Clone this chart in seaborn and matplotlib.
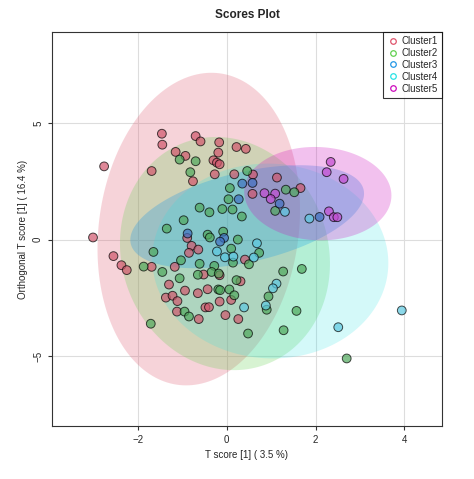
import numpy as np
import pandas as pd
import matplotlib
matplotlib.use("Agg")
import matplotlib.pyplot as plt
import seaborn as sns

sns.set_style("white")
plt.rcParams["font.family"] = ["Liberation Sans", "DejaVu Sans"]

clusters = ["Cluster1", "Cluster2", "Cluster3", "Cluster4", "Cluster5"]
colors = ["#DF536B", "#61D04F", "#2297E6", "#28E2E5", "#CD0BBC"]
point_colors = ["#D0566C", "#4FA85C", "#3F6FC0", "#5CC8E0", "#C24BD0"]

c1_x = [-1.46, -1.45, -0.70, -0.59, -0.17, 0.22, 0.43, -1.15, -0.93, -0.19, -0.30, -0.22, -0.16,
        -2.76, -1.69, -0.27, -0.76, 0.17, 0.59, 1.13, 1.66, 0.58, -3.01, -0.89, -0.79, -0.85,
        -0.64, 0.41, -2.55, -2.37, -2.25, -1.69, -1.17, -0.52, -0.16, -1.30, 0.31, -1.37, -1.22,
        -1.11, -0.94, -0.65, -0.43, -0.16, 0.10, -0.48, -0.40, -1.12, -0.03, 0.26, -0.63]
c1_y = [4.54, 4.07, 4.44, 4.21, 4.17, 3.97, 3.89, 3.76, 3.59, 3.73, 3.40, 3.30, 3.23,
        3.14, 2.94, 2.80, 2.50, 2.80, 2.79, 2.66, 2.21, 1.96, 0.09, 0.07, -0.27, -0.57,
        -0.43, -0.86, -0.71, -1.10, -1.31, -1.17, -1.17, -1.50, -1.53, -1.93, -1.79, -2.49, -2.41,
        -2.64, -2.19, -2.30, -2.13, -2.66, -2.59, -2.91, -2.90, -3.09, -3.24, -3.41, -3.41]
c2_x = [-1.06, -0.70, -0.82, 0.46, 0.07, 0.04, -0.61, -0.39, -0.10, 0.13, 0.34, 1.33, 1.52,
        1.09, -0.97, -1.35, -0.43, -0.38, -0.08, 0.25, -1.65, -1.03, 0.10, 0.73, 0.14, -1.87,
        -1.45, -0.61, -0.28, -0.34, -0.18, -0.65, -1.06, 0.50, 1.69, 1.27, 0.22, -0.19, -0.15,
        0.06, 0.17, 0.94, -0.95, -0.85, 0.90, 1.57, -1.71, 0.48, 1.28, 2.70]
c2_y = [3.43, 3.36, 2.89, 2.94, 2.21, 1.73, 1.37, 1.17, 1.31, 1.29, 0.99, 2.14, 2.03,
        1.23, 0.83, 0.47, 0.21, 0.09, 0.34, 0.00, -0.53, -0.89, -0.39, -0.57, -0.99, -1.16,
        -1.39, -1.04, -1.13, -1.39, -1.46, -1.51, -1.66, -1.06, -1.26, -1.37, -1.74, -2.14, -2.17,
        -2.14, -2.39, -2.44, -3.09, -3.30, -3.01, -3.06, -3.61, -4.03, -3.89, -5.10]
c3_x = [0.58, 0.35, 0.27, 1.19, 2.09, -0.88, -0.06, -0.15]
c3_y = [2.43, 2.40, 1.73, 1.54, 0.97, 0.26, 0.07, -0.09]
c4_x = [1.31, 1.86, 0.68, -0.22, -0.04, 0.15, 0.61, 1.12, 1.04, 0.88, 0.39, 2.51, 3.94]
c4_y = [1.19, 0.90, -0.16, -0.51, -0.76, -0.73, -0.77, -1.89, -2.09, -2.83, -2.91, -3.76, -3.04]
c5_x = [2.34, 2.25, 2.63, 0.85, 1.09, 0.99, 2.30, 2.41, 2.49]
c5_y = [3.33, 2.89, 2.60, 1.99, 1.97, 1.74, 1.21, 0.96, 0.96]

# confidence ellipses: centre, first and second axis vectors (data units)
ell_center = [(-0.63, 0.45), (-0.04, -0.6), (0.46, 0.98), (0.98, -0.92), (2.05, 1.97)]
ell_axis1 = [(2.27, 0.25), (2.35, 0.1), (2.6, 1.28), (2.5, -1.5), (1.65, 0.1)]
ell_axis2 = [(0.2, 6.7), (-0.25, 5.0), (-0.4, 1.8), (0.9, 3.9), (-0.15, 2.0)]
ell_alpha = [0.25, 0.25, 0.3, 0.2, 0.25]

xs = [c1_x, c2_x, c3_x, c4_x, c5_x]
ys = [c1_y, c2_y, c3_y, c4_y, c5_y]
df = pd.concat([pd.DataFrame({"x": x, "y": y, "cluster": c}) for x, y, c in zip(xs, ys, clusters)],
               ignore_index=True)

fig = plt.figure(figsize=(4.74, 4.79), dpi=100)
ax = fig.add_axes([0.110, 0.111, 0.822, 0.822])

t = np.linspace(0, 2 * np.pi, 200)
for (cx, cy), (ax1, ay1), (ax2, ay2), col, a in zip(ell_center, ell_axis1, ell_axis2, colors, ell_alpha):
    ax.fill(cx + ax1 * np.cos(t) + ax2 * np.sin(t), cy + ay1 * np.cos(t) + ay2 * np.sin(t),
            color=col, alpha=a, lw=0, zorder=1)

sns.scatterplot(data=df, x="x", y="y", hue="cluster", palette=point_colors, s=40, alpha=0.7,
                edgecolor="black", linewidth=0.7, legend=False, ax=ax, zorder=3)

handles = [plt.Line2D([], [], marker="o", ls="", mfc="none", mec=c, ms=4, mew=0.9) for c in colors]
leg = ax.legend(handles, clusters, loc="upper right", fontsize=7, frameon=True, fancybox=False,
                borderaxespad=0, handletextpad=0.3, labelspacing=0.2, borderpad=0.4, handlelength=1.2)
leg.get_frame().set_edgecolor("black")
leg.get_frame().set_linewidth(0.8)

ax.set_xlim(-3.93, 4.84)
ax.set_ylim(-7.99, 8.9)
ax.set_xticks([-2, 0, 2, 4])
ax.set_yticks([-5, 0, 5])
ax.grid(True, color="#dddddd", lw=0.8, zorder=0)
ax.set_axisbelow(True)
for s in ax.spines.values():
    s.set_color("#333333")
    s.set_linewidth(0.8)
ax.tick_params(axis="both", labelsize=7, length=3, color="#333333", left=True, bottom=True)
plt.setp(ax.get_yticklabels(), rotation=90, va="center")
ax.set_xlabel("T score [1] ( 3.5 %)", fontsize=7)
ax.set_ylabel("Orthogonal T score [1] ( 16.4 %)", fontsize=7)
ax.set_title("Scores Plot", fontsize=8.5, fontweight="bold", pad=10)

fig.savefig("out.png", dpi=100)
plt.close(fig)
